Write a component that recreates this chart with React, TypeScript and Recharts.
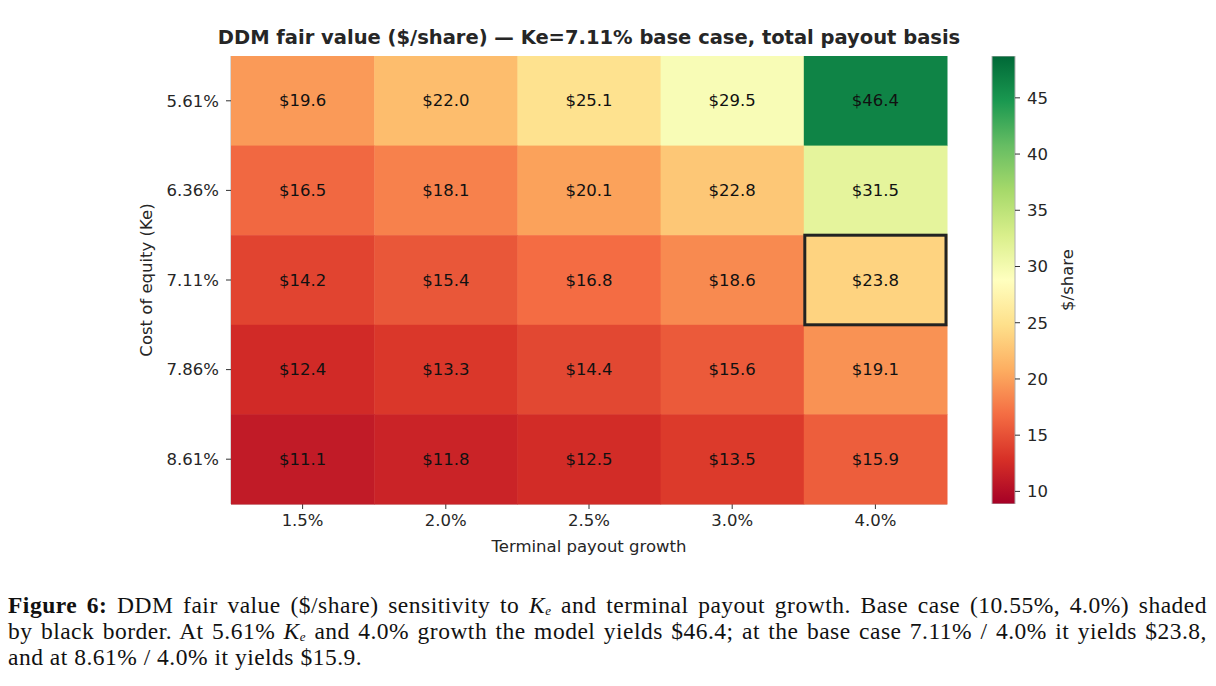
import { ScatterChart, Scatter, XAxis, YAxis, BarChart, Bar } from 'recharts'

const GROWTH = ['1.5%', '2.0%', '2.5%', '3.0%', '4.0%']
const KE = ['5.61%', '6.36%', '7.11%', '7.86%', '8.61%']
// rows = cost of equity, columns = terminal growth
const ROW_561 = [19.6, 22.0, 25.1, 29.5, 46.4]
const ROW_636 = [16.5, 18.1, 20.1, 22.8, 31.5]
const ROW_711 = [14.2, 15.4, 16.8, 18.6, 23.8]
const ROW_786 = [12.4, 13.3, 14.4, 15.6, 19.1]
const ROW_861 = [11.1, 11.8, 12.5, 13.5, 15.9]
const VALUES = [ROW_561, ROW_636, ROW_711, ROW_786, ROW_861]
const BASE_KE = '7.11%'
const BASE_GROWTH = '4.0%'
const CB_TICKS = [10, 15, 20, 25, 30, 35, 40, 45]
const VMIN = 8.88
const VMAX = 48.72

const RDYLGN = ['#a50026', '#d73027', '#f46d43', '#fdae61', '#fee08b', '#ffffbf', '#d9ef8b', '#a6d96a', '#66bd63', '#1a9850', '#006837']

const hex = (h: string) => [1, 3, 5].map((i) => parseInt(h.slice(i, i + 2), 16))
function colorFor(v: number) {
  let t = (v - VMIN) / (VMAX - VMIN)
  t = Math.max(0, Math.min(1, t)) * (RDYLGN.length - 1)
  const i = Math.min(Math.floor(t), RDYLGN.length - 2)
  const f = t - i
  const a = hex(RDYLGN[i])
  const b = hex(RDYLGN[i + 1])
  const c = a.map((x, k) => Math.round(x + (b[k] - x) * f))
  return `rgb(${c[0]},${c[1]},${c[2]})`
}

const cells = VALUES.flatMap((row, r) => row.map((v, c) => ({ x: c, y: r, v })))
const baseCell = [{ x: GROWTH.indexOf(BASE_GROWTH), y: KE.indexOf(BASE_KE) }]
const cbData = [{ name: 'cb', range: [VMIN, VMAX] }]

const FONT = 'DejaVu Sans'
const TXT = '#262626'
const FS = 16.5
const CHART_W = 960
const CHART_H = 570
const M = { top: 56, right: 13, bottom: 0, left: 141 }
const YW = 90
const XH = 66
const CELL_W = (CHART_W - M.left - M.right - YW) / GROWTH.length
const CELL_H = (CHART_H - M.top - M.bottom - XH) / KE.length

function HeatCell(props: any) {
  const { cx, cy, payload } = props
  return (
    <g>
      <rect x={cx - CELL_W / 2} y={cy - CELL_H / 2} width={CELL_W + 0.5} height={CELL_H + 0.5} fill={colorFor(payload.v)} />
      <text x={cx} y={cy} textAnchor="middle" dominantBaseline="central" fontSize={FS} fontFamily={FONT} fill="#111">
        ${payload.v.toFixed(1)}
      </text>
    </g>
  )
}

function BaseBox(props: any) {
  const { cx, cy } = props
  return <rect x={cx - CELL_W / 2 + 1} y={cy - CELL_H / 2} width={CELL_W - 2} height={CELL_H} fill="none" stroke="#222" strokeWidth={3} />
}

const Ke = () => (
  <>
    <i>K</i>
    <span style={{ fontSize: 13, fontStyle: 'italic', position: 'relative', top: 2, lineHeight: 0 }}>e</span>
  </>
)

export default function App() {
  return (
    <div style={{ position: 'absolute', left: 0, top: 0, width: 1216, height: 686, background: '#fff', fontFamily: FONT }}>
      <div style={{ position: 'absolute', left: 0, width: 1178, top: 26, textAlign: 'center', fontWeight: 'bold', fontSize: 19.5, color: TXT }}>
        DDM fair value ($/share) — Ke=7.11% base case, total payout basis
      </div>
      <div style={{ position: 'absolute', left: 0, top: 0 }}>
        <ScatterChart width={CHART_W} height={CHART_H} margin={M}>
          <XAxis
            type="number"
            dataKey="x"
            domain={[-0.5, 4.5]}
            ticks={[0, 1, 2, 3, 4]}
            tickFormatter={(i: number) => GROWTH[i]}
            height={XH}
            tickSize={5}
            tickMargin={5}
            stroke="#b0b0b0"
            tick={{ fill: TXT, fontSize: FS, fontFamily: FONT }}
            tickLine={{ stroke: '#333' }}
            label={{
              content: ({ viewBox }: any) => (
                <text x={viewBox.x + viewBox.width / 2} y={viewBox.y + 48} textAnchor="middle" fontSize={FS} fontFamily={FONT} fill={TXT}>
                  Terminal payout growth
                </text>
              ),
            }}
          />
          <YAxis
            type="number"
            dataKey="y"
            domain={[-0.5, 4.5]}
            reversed
            ticks={[0, 1, 2, 3, 4]}
            tickFormatter={(i: number) => KE[i]}
            width={YW}
            tickSize={5}
            tickMargin={7}
            stroke="#b0b0b0"
            tick={{ fill: TXT, fontSize: FS, fontFamily: FONT }}
            tickLine={{ stroke: '#333' }}
            label={{
              content: ({ viewBox }: any) => {
                const x = viewBox.x + 5
                const y = viewBox.y + viewBox.height / 2
                return (
                  <text x={x} y={y} transform={`rotate(-90 ${x} ${y})`} textAnchor="middle" dominantBaseline="central" fontSize={FS} fontFamily={FONT} fill={TXT}>
                    Cost of equity (Ke)
                  </text>
                )
              },
            }}
          />
          <Scatter data={cells} shape={HeatCell} isAnimationActive={false} />
          <Scatter data={baseCell} shape={BaseBox} isAnimationActive={false} />
        </ScatterChart>
      </div>
      <div style={{ position: 'absolute', left: 960, top: 0 }}>
        <BarChart width={130} height={CHART_H} data={cbData} margin={{ top: 56, right: 35, bottom: XH, left: 32 }} barCategoryGap={0}>
          <defs>
            <linearGradient id="cbGrad" x1="0" y1="1" x2="0" y2="0">
              {RDYLGN.map((c, i) => (
                <stop key={c} offset={i / (RDYLGN.length - 1)} stopColor={c} />
              ))}
            </linearGradient>
          </defs>
          <XAxis dataKey="name" hide />
          <YAxis
            orientation="right"
            type="number"
            domain={[VMIN, VMAX]}
            allowDataOverflow
            ticks={CB_TICKS}
            width={40}
            tickSize={5}
            tickMargin={7}
            axisLine={false}
            tick={{ fill: TXT, fontSize: FS, fontFamily: FONT }}
            tickLine={{ stroke: '#333' }}
            label={{
              content: ({ viewBox }: any) => {
                const x = viewBox.x + viewBox.width + 12
                const y = viewBox.y + viewBox.height / 2
                return (
                  <text x={x} y={y} transform={`rotate(-90 ${x} ${y})`} textAnchor="middle" dominantBaseline="central" fontSize={FS} fontFamily={FONT} fill={TXT}>
                    $/share
                  </text>
                )
              },
            }}
          />
          <Bar dataKey="range" fill="url(#cbGrad)" stroke="#b0b0b0" strokeWidth={1} isAnimationActive={false} />
        </BarChart>
      </div>
      <div style={{ position: 'absolute', left: 8, width: 1199, top: 592, fontFamily: '"Liberation Serif", serif', fontSize: 23.5, letterSpacing: 0.5, lineHeight: '26px', color: '#111' }}>
        <div style={{ textAlign: 'justify', textAlignLast: 'justify', whiteSpace: 'nowrap' }}>
          <b>Figure 6:</b> DDM fair value ($/share) sensitivity to <Ke /> and terminal payout growth. Base case (10.55%, 4.0%) shaded
        </div>
        <div style={{ textAlign: 'justify', textAlignLast: 'justify' }}>
          by black border. At 5.61% <Ke /> and 4.0% growth the model yields $46.4; at the base case 7.11% / 4.0% it yields $23.8,
        </div>
        <div>and at 8.61% / 4.0% it yields $15.9.</div>
      </div>
    </div>
  )
}
